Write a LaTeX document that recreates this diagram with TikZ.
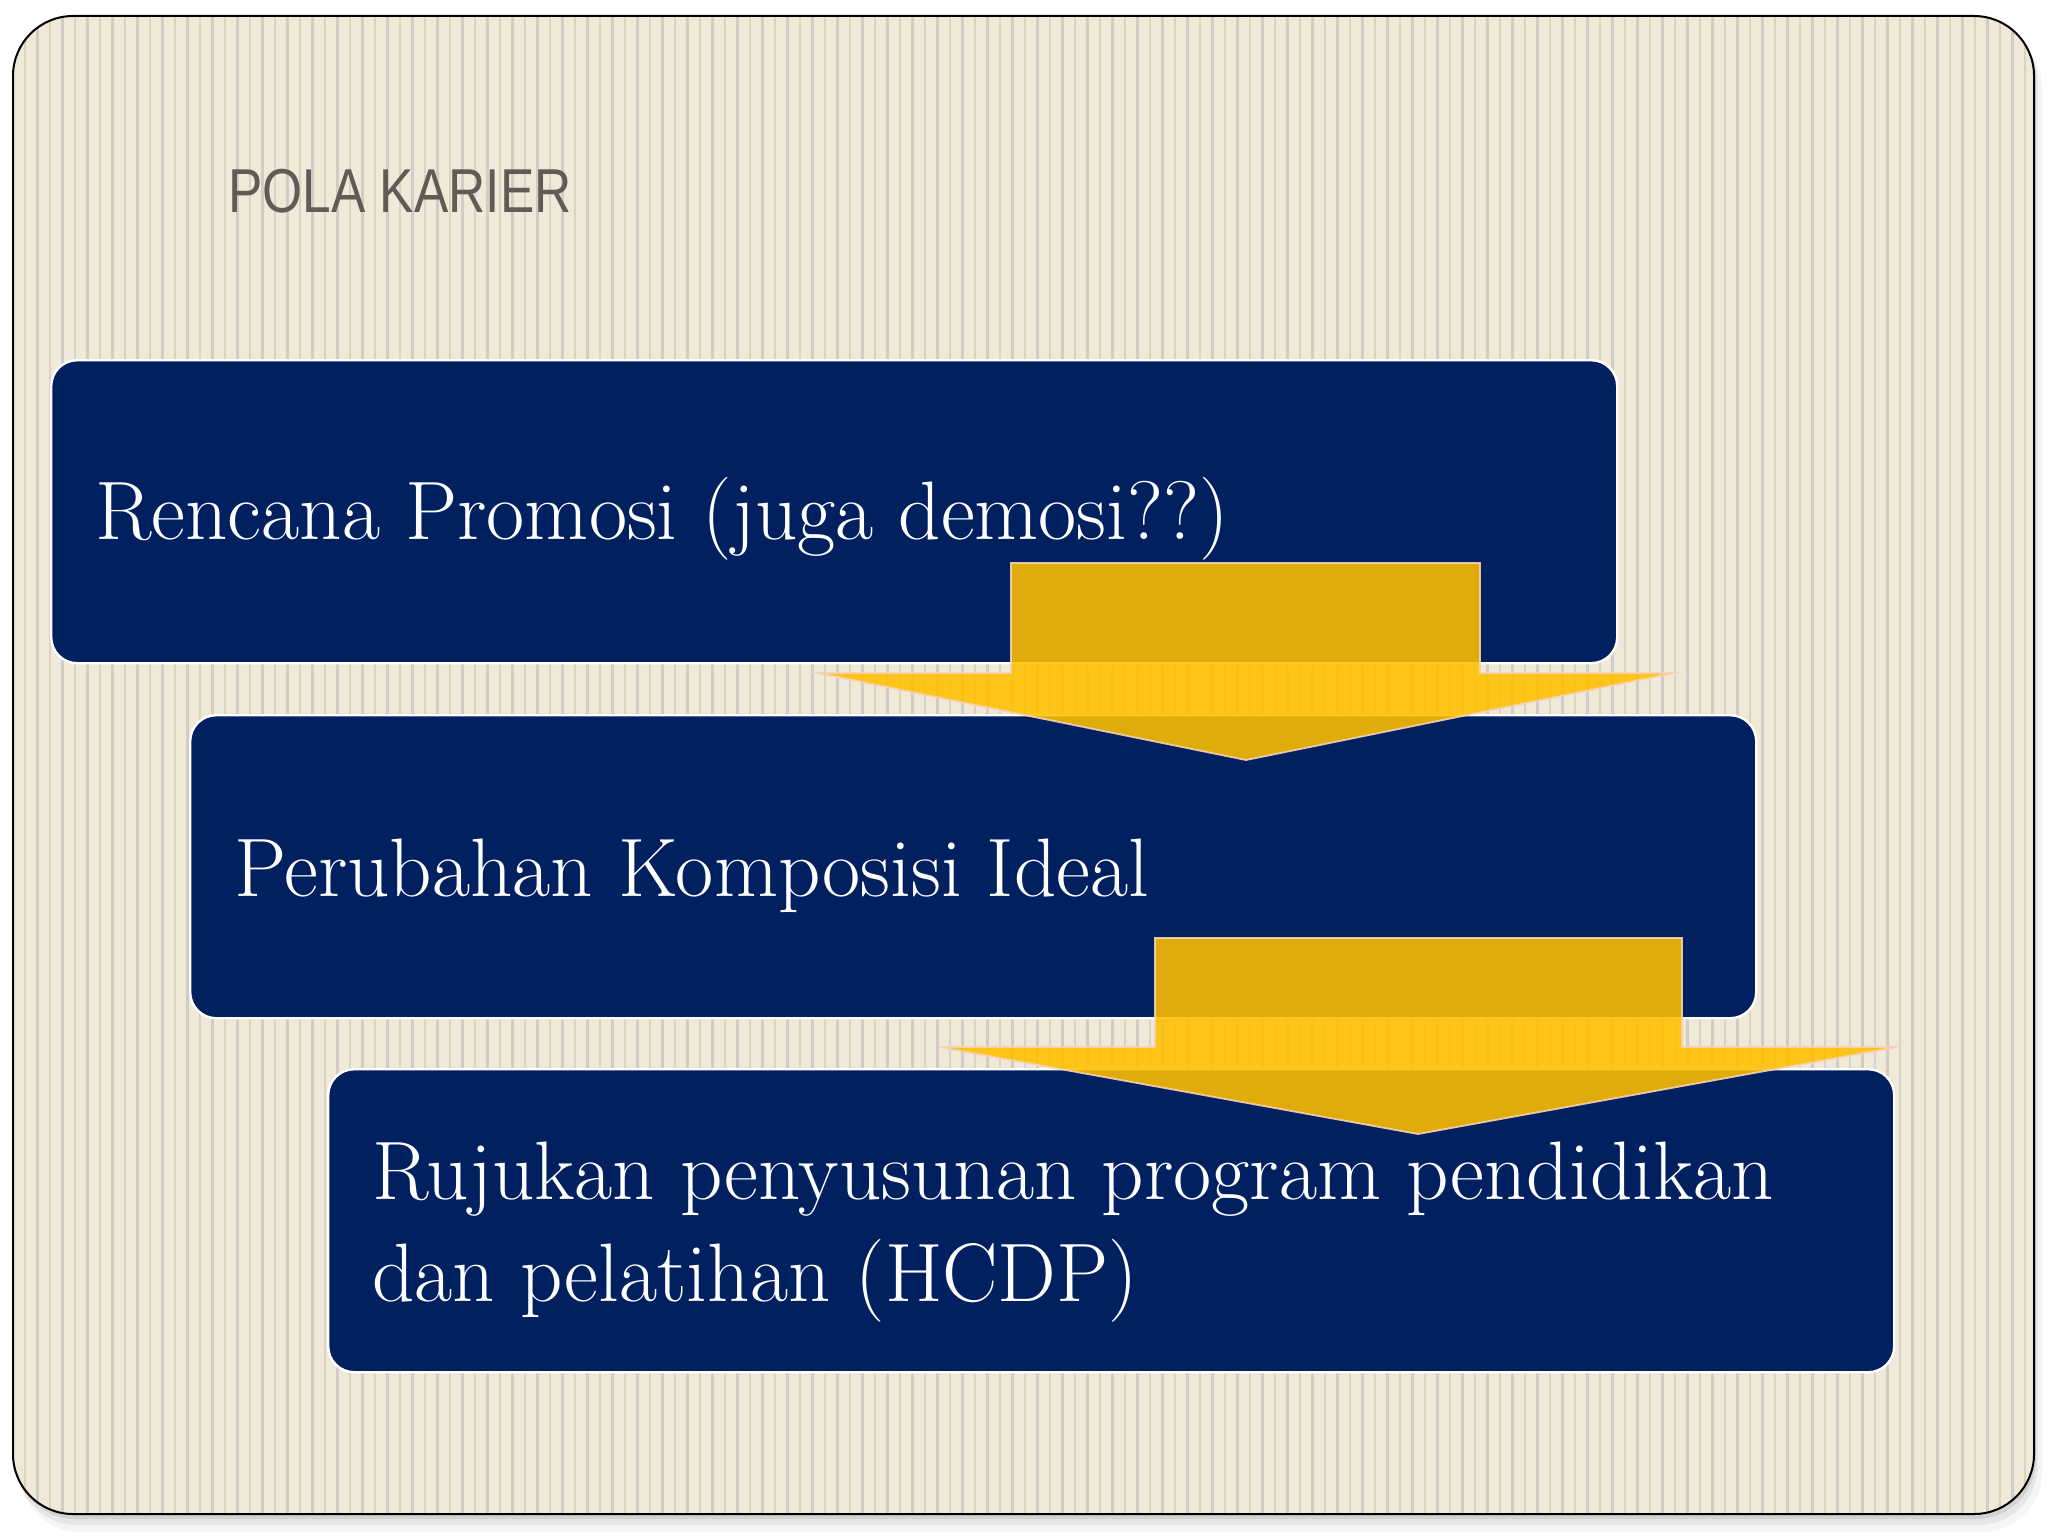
\documentclass[tikz,border=0pt]{standalone}
\usepackage{fontspec}
\newfontfamily\titlefont{Liberation Sans}
\definecolor{bg}{HTML}{F1E9D8}
\definecolor{stripeA}{HTML}{D3CCC6}
\definecolor{stripeB}{HTML}{DAD3C2}
\definecolor{navy}{HTML}{002060}
\definecolor{gold}{HTML}{FFC000}
\definecolor{edge}{HTML}{F6D2B4}
\definecolor{titlegray}{HTML}{615B57}
\begin{document}
\begin{tikzpicture}[x=0.5pt,y=-0.5pt,
  stepbox/.style={fill=navy,draw=white,line width=1.2pt,rounded corners=13pt,
    minimum width=783pt,minimum height=151.5pt,anchor=north west,inner sep=0},
  downarrow/.style={fill=gold,fill opacity=0.88,draw=edge,line width=0.9pt,draw opacity=0.9},
  boxtext/.style={anchor=base west,inner sep=0,text=white,font=\fontsize{41.5}{48}\selectfont}]
\useasboundingbox (0,0) rectangle (2048,1536);
\fill[white] (0,0) rectangle (2048,1536);
% shadow
\fill[black,opacity=0.04,rounded corners=30pt] (20,28) rectangle (2042,1532);
\fill[black,opacity=0.06,rounded corners=30pt] (17,22) rectangle (2038,1525);
\fill[black,opacity=0.08,rounded corners=30pt] (15,18) rectangle (2036,1519);
% frame
\fill[bg,rounded corners=30pt] (13,16) rectangle (2034,1514);
\begin{scope}
  \clip[rounded corners=30pt] (13,16) rectangle (2034,1514);
  \foreach \i in {0,...,81} {
    \fill[stripeA] ({11+\i*25},16) rectangle +(2.8,1500);
    \fill[stripeB] ({23.8+\i*25},16) rectangle +(1.8,1500);
  }
\end{scope}
\draw[black,line width=1pt,rounded corners=30pt] (13,16) rectangle (2034,1514);
% title
\node[anchor=base west,inner sep=0,text=titlegray] (title) at (228,212)
  {\titlefont\fontsize{31}{31}\selectfont\scalebox{0.83}[1]{POLA KARIER}};
% boxes
\node[stepbox] (b1) at (50,359) {};
\node[stepbox] (b2) at (189,714) {};
\node[stepbox] (b3) at (327,1068) {};
\node[boxtext] (t1) at (95,539) {Rencana Promosi (juga demosi??)};
\node[boxtext] (t2) at (234,896) {Perubahan Komposisi Ideal};
\node[boxtext] (t3a) at (372,1199) {Rujukan penyusunan program pendidikan};
\node[boxtext] (t3b) at (372,1301) {dan pelatihan (HCDP)};
% arrows
\draw[downarrow] (1011,563) -- (1480,563) -- (1480,673) -- (1674,673) -- (1246,760)
  -- (818,673) -- (1011,673) -- cycle;
\draw[downarrow] (1155,938) -- (1682,938) -- (1682,1047) -- (1897,1047) -- (1418,1134)
  -- (939,1047) -- (1155,1047) -- cycle;
\end{tikzpicture}
\end{document}
